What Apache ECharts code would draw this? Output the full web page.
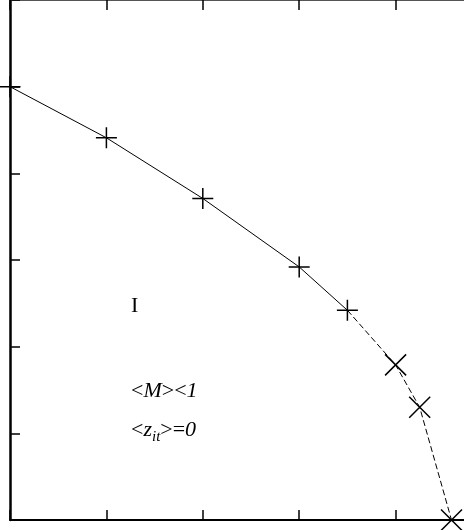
<!DOCTYPE html>
<html>
<head>
<meta charset="utf-8">
<script src="https://cdn.jsdelivr.net/npm/echarts@6/dist/echarts.min.js"></script>
<style>
html,body{margin:0;padding:0;background:#fff;}
#c{width:464px;height:530px;}
</style>
</head>
<body>
<div id="c"></div>
<script>
// Data
const solidX = [0, 1, 2, 3, 3.5];
const solidY = [5.0, 4.41, 3.71, 2.92, 2.42];
const dashedX = [3.5, 4, 4.25, 4.58];
const dashedY = [2.42, 1.79, 1.30, 0];
const regionLabel = 'I';

const plusPath = 'path://M0,10.5L21,10.5M10.5,0L10.5,21';
const crossPath = 'path://M0,0L21,21M21,0L0,21';

const chart = echarts.init(document.getElementById('c'), null, {renderer: 'canvas'});

const axisCommon = {
  type: 'value',
  axisLabel: {show: false},
  splitLine: {show: false},
  axisTick: {show: true, inside: true, length: 10, lineStyle: {color: '#000', width: 1.5}}
};

const solidData = solidX.map((x, i) => [x, solidY[i]]);
const dashedData = dashedX.map((x, i) => i === 0 ? {value: [x, dashedY[i]], symbol: 'none'} : [x, dashedY[i]]);

chart.setOption({
  animation: false,
  grid: {left: 10, top: 0, right: -28, bottom: 10, outerBoundsMode: 'none', containLabel: false},
  xAxis: [
    Object.assign({}, axisCommon, {position: 'bottom', min: 0, max: 5, interval: 1,
      axisLine: {show: true, onZero: false, lineStyle: {color: '#000', width: 2}}}),
    Object.assign({}, axisCommon, {position: 'top', min: 0, max: 5, interval: 1,
      axisLine: {show: true, onZero: false, lineStyle: {color: '#555', width: 2}}})
  ],
  yAxis: [
    Object.assign({}, axisCommon, {position: 'left', min: 0, max: 6, interval: 1,
      axisLine: {show: true, onZero: false, lineStyle: {color: '#000', width: 2.5}}})
  ],
  series: [
    {
      type: 'line',
      data: solidData,
      clip: false,
      symbol: plusPath,
      symbolSize: 21,
      lineStyle: {color: '#000', width: 1},
      itemStyle: {color: '#000', borderColor: '#000', borderWidth: 1.5},
      emphasis: {disabled: true},
      silent: true,
      z: 3
    },
    {
      type: 'line',
      data: dashedData,
      clip: false,
      symbol: crossPath,
      symbolSize: 21,
      lineStyle: {color: '#000', width: 1, type: [6, 3]},
      itemStyle: {color: '#000', borderColor: '#000', borderWidth: 1.5},
      emphasis: {disabled: true},
      silent: true,
      z: 3
    }
  ],
  graphic: [
    {
      type: 'text', left: 131, top: 295,
      style: {text: regionLabel, font: '22px "Liberation Serif", serif', fill: '#000'}
    },
    {
      type: 'text', left: 131, top: 380,
      style: {
        text: '{u|<}{i|M}{u|><}{i|1}',
        rich: {
          u: {font: '22px "Liberation Serif", serif', fill: '#000', lineHeight: 26},
          i: {font: 'italic 22px "Liberation Serif", serif', fill: '#000', lineHeight: 26}
        }
      }
    },
    {
      type: 'text', left: 131, top: 419,
      style: {
        text: '{u|<}{i|z}{s|it}{u|>=}{i|0}',
        rich: {
          u: {font: '22px "Liberation Serif", serif', fill: '#000', lineHeight: 30},
          i: {font: 'italic 22px "Liberation Serif", serif', fill: '#000', lineHeight: 30},
          s: {font: 'italic 15px "Liberation Serif", serif', fill: '#000', lineHeight: 16, verticalAlign: 'bottom'}
        }
      }
    }
  ]
});
</script>
</body>
</html>
